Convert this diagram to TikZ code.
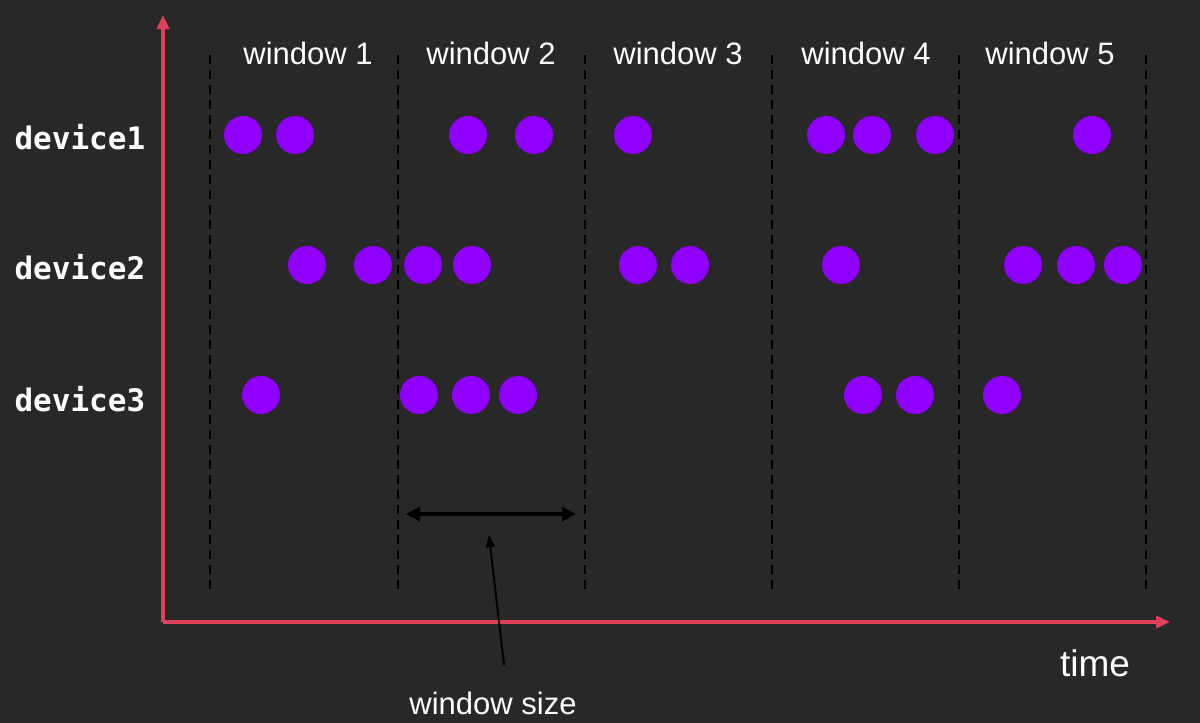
\documentclass[tikz,border=0pt]{standalone}
\usepackage{fontspec}
\setmainfont{Liberation Sans}
\newfontfamily\monob{DejaVu Sans Mono}
\usetikzlibrary{arrows.meta}
\definecolor{bg}{HTML}{282828}
\definecolor{ax}{HTML}{E0405A}
\definecolor{dot}{HTML}{8F00FF}
\tikzset{x=1pt,y=-1pt,
 dotn/.style={circle,fill=dot,minimum size=38pt,inner sep=0pt},
 win/.style={text=white,font=\fontsize{31}{33}\selectfont},
 dev/.style={text=white,anchor=west,font=\monob\bfseries\fontsize{31}{33}\selectfont},
 dash line/.style={black,line width=2.5pt,dash pattern=on 9pt off 6pt}}
\begin{document}
\begin{tikzpicture}
\fill[bg] (0,0) rectangle (1200,723);
\useasboundingbox (0,0) rectangle (1200,723);
\coordinate (o) at (163,622);
\coordinate (yt) at (163,15);
\coordinate (xt) at (1170,622);
\draw[ax,line width=3.5pt,-{Triangle[length=14pt,width=12pt]}] (o) -- (yt);
\draw[ax,line width=3.5pt,-{Triangle[length=14pt,width=12pt]}] (o) -- (xt);
\foreach \x in {210,398,585,772,959,1146} \draw[dash line] (\x,55) -- (\x,590);
\foreach \x/\n in {308/1,491/2,678/3,866/4,1050/5} \node[win] (w\n) at (\x,53) {window \n};
\node[dev] (d1) at (11,137) {device1};
\node[dev] (d2) at (11,267) {device2};
\node[dev] (d3) at (11,399) {device3};
\foreach \x in {243,295,468,534,633,826,872,935,1092} \node[dotn] at (\x,135) {};
\foreach \x in {307,373,423,472,638,690,841,1023,1076,1123} \node[dotn] at (\x,265) {};
\foreach \x in {261,419,471,518,863,915,1002} \node[dotn] at (\x,395) {};
\coordinate (al) at (406,514);
\coordinate (ar) at (576,514);
\draw[black,line width=3.5pt,{Triangle[length=14pt,width=14pt]}-{Triangle[length=14pt,width=14pt]}] (al) -- (ar);
\node[win] (ws) at (493,703) {window size};
\coordinate (ptip) at (489,535);
\coordinate (pbase) at (504,665);
\draw[black,line width=2pt,-{Triangle[length=12pt,width=9pt]}] (pbase) -- (ptip);
\node[win,font=\fontsize{37}{39}\selectfont] (t) at (1095,663) {time};
\end{tikzpicture}
\end{document}
